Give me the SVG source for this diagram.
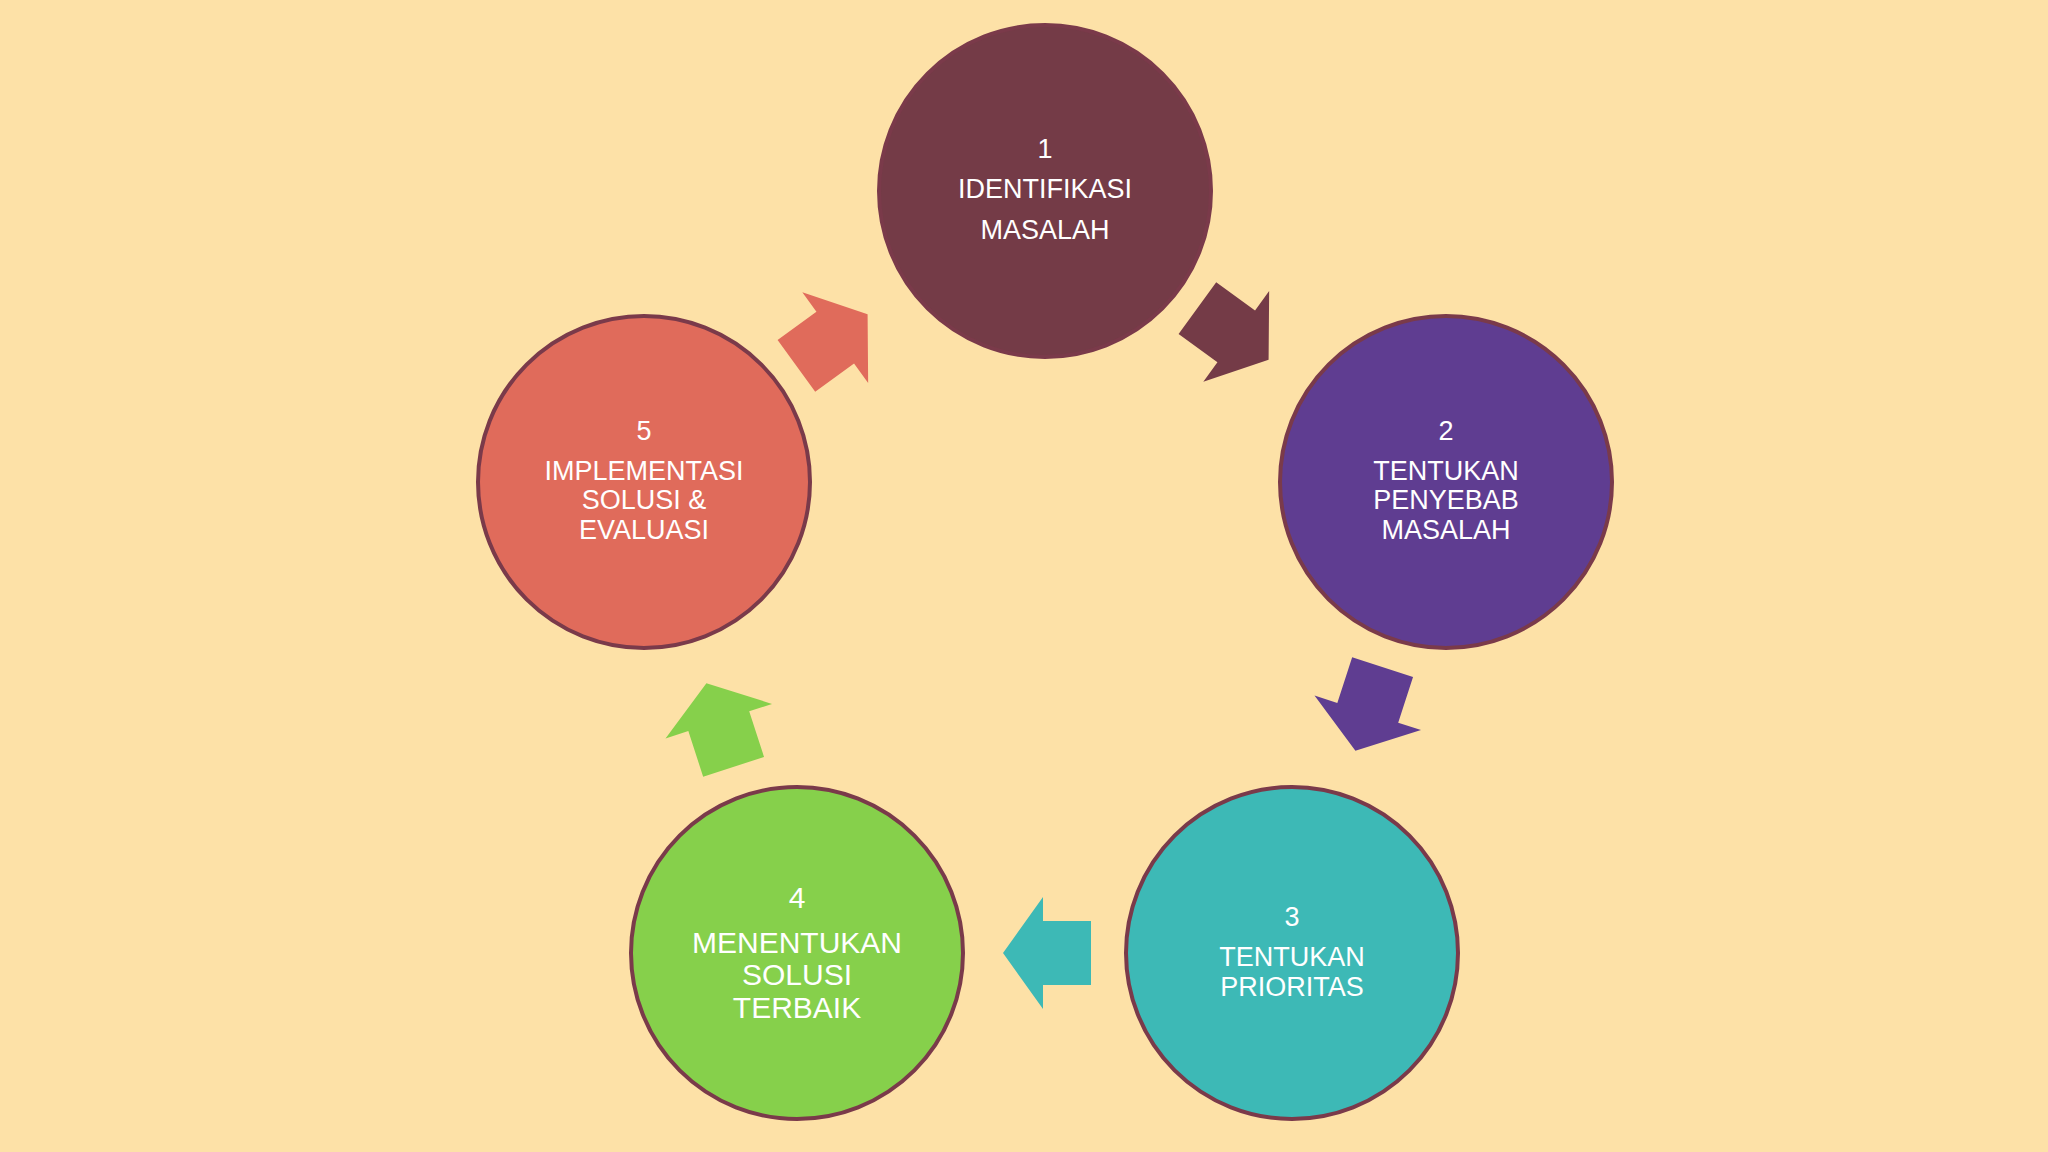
<svg xmlns="http://www.w3.org/2000/svg" width="2048" height="1152" viewBox="0 0 2048 1152">
<style>
.c{stroke:#7a3a4a;stroke-width:4}
.t{fill:#fff;font-family:"Liberation Sans",Arial,sans-serif;font-size:27px;text-anchor:middle;dominant-baseline:central}
.b{font-size:30px}
</style>
<defs><path id="ar" d="M-44,-32 L4,-32 L4,-56 L44,0 L4,56 L4,32 L-44,32 Z"/></defs>
<rect width="2048" height="1152" fill="#fde1a7"/>
<g id="connectors">
<use href="#ar" fill="#743b47" transform="translate(1233,334) rotate(36)"/>
<use href="#ar" fill="#5f3d91" transform="translate(1369,709) rotate(108)"/>
<use href="#ar" fill="#3db9b6" transform="translate(1047,953) rotate(180)"/>
<use href="#ar" fill="#86d04b" transform="translate(720,725) rotate(252)"/>
<use href="#ar" fill="#e06b5b" transform="translate(832,340) rotate(-36)"/>
</g>
<g id="n1"><circle class="c" cx="1045" cy="191" r="166" fill="#743b47"/>
<text class="t"><tspan x="1045" y="149">1</tspan><tspan x="1045" y="189">IDENTIFIKASI</tspan><tspan x="1045" y="230">MASALAH</tspan></text></g>
<g id="n2"><circle class="c" cx="1446" cy="482" r="166" fill="#5f3d91"/>
<text class="t"><tspan x="1446" y="431">2</tspan><tspan x="1446" y="471">TENTUKAN</tspan><tspan x="1446" y="500">PENYEBAB</tspan><tspan x="1446" y="530">MASALAH</tspan></text></g>
<g id="n3"><circle class="c" cx="1292" cy="953" r="166" fill="#3db9b6"/>
<text class="t"><tspan x="1292" y="917">3</tspan><tspan x="1292" y="957">TENTUKAN</tspan><tspan x="1292" y="987">PRIORITAS</tspan></text></g>
<g id="n4"><circle class="c" cx="797" cy="953" r="166" fill="#86d04b"/>
<text class="t b"><tspan x="797" y="897">4</tspan><tspan x="797" y="942">MENENTUKAN</tspan><tspan x="797" y="974">SOLUSI</tspan><tspan x="797" y="1007">TERBAIK</tspan></text></g>
<g id="n5"><circle class="c" cx="644" cy="482" r="166" fill="#e06b5b"/>
<text class="t"><tspan x="644" y="431">5</tspan><tspan x="644" y="471">IMPLEMENTASI</tspan><tspan x="644" y="500">SOLUSI &amp;</tspan><tspan x="644" y="530">EVALUASI</tspan></text></g>
</svg>
